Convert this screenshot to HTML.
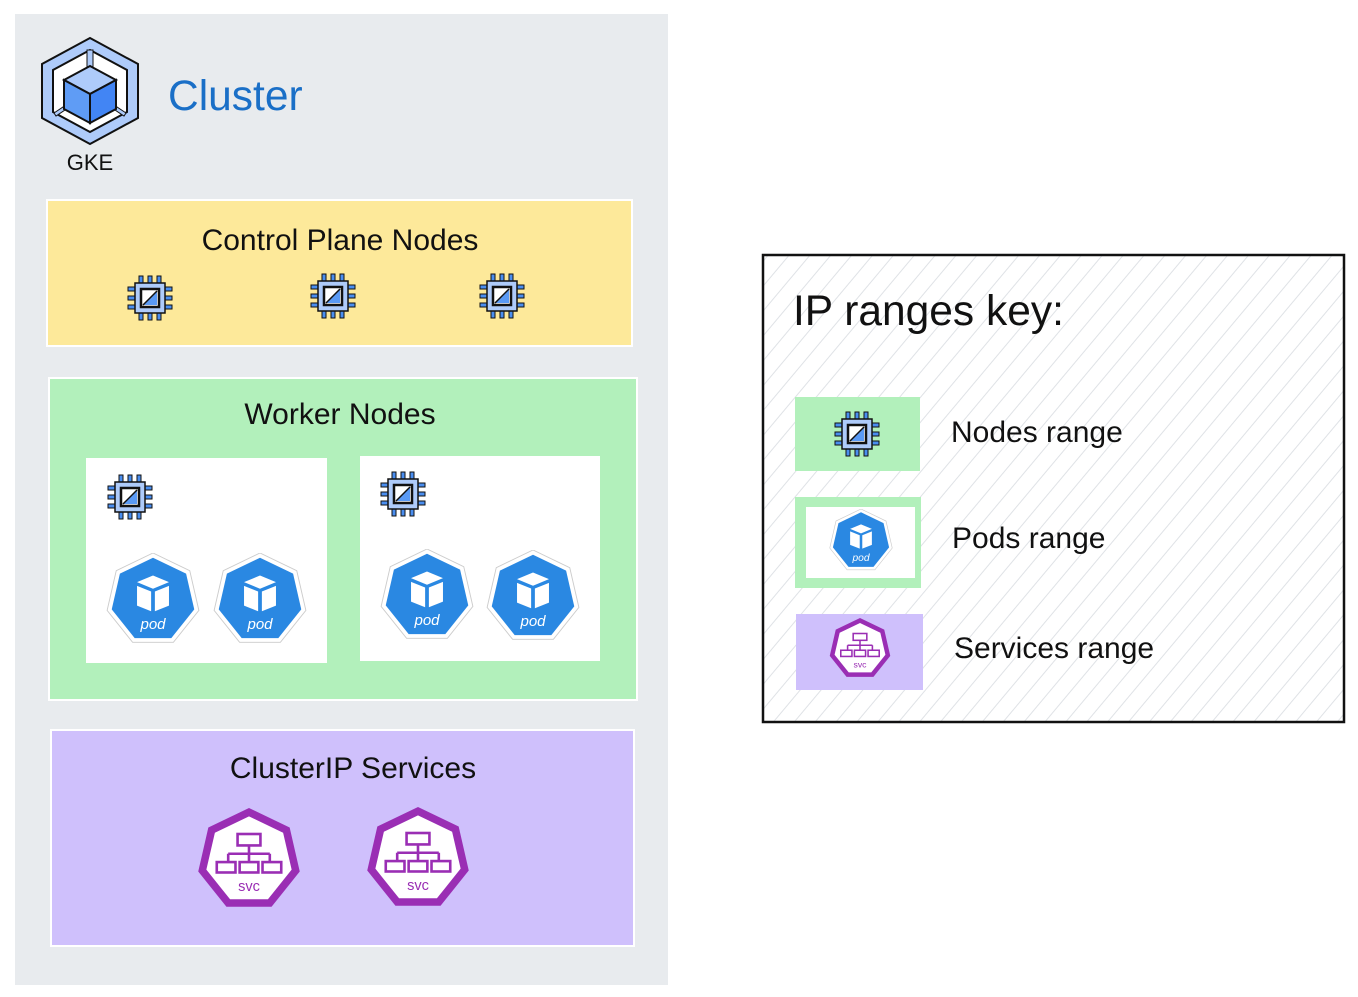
<!DOCTYPE html>
<html><head><meta charset="utf-8"><style>
html,body{margin:0;padding:0;background:#fff;}
svg{display:block;font-family:"Liberation Sans",sans-serif;}
</style></head><body>
<svg width="1358" height="997" viewBox="0 0 1358 997" xmlns="http://www.w3.org/2000/svg">
<defs>
<pattern id="hatch" width="16" height="16" patternUnits="userSpaceOnUse" patternTransform="rotate(40)">
<line x1="0" y1="0" x2="0" y2="16" stroke="#dfe2e6" stroke-width="2"/>
</pattern>
<symbol id="chip" viewBox="0 0 48 48">
<g fill="#4a8ef0" stroke="#111" stroke-width="1">
<rect x="13" y="2" width="4" height="8"/><rect x="22" y="2" width="4" height="8"/><rect x="31" y="2" width="4" height="8"/>
<rect x="13" y="38" width="4" height="8"/><rect x="22" y="38" width="4" height="8"/><rect x="31" y="38" width="4" height="8"/>
<rect x="2" y="13" width="8" height="4"/><rect x="2" y="22" width="8" height="4"/><rect x="2" y="31" width="8" height="4"/>
<rect x="38" y="13" width="8" height="4"/><rect x="38" y="22" width="8" height="4"/><rect x="38" y="31" width="8" height="4"/>
</g>
<rect x="9" y="9" width="30" height="30" fill="#aecbfa" stroke="#111" stroke-width="1.5"/>
<rect x="15" y="15" width="18" height="18" fill="#fff" stroke="#111" stroke-width="2.5"/>
<path d="M17 31 L31 17 L31 31 Z" fill="#5a9af5"/>
<path d="M17 31 L31 17" stroke="#111" stroke-width="1.5"/>
</symbol>
<symbol id="pod" viewBox="-50 -50 100 100">
<polygon points="0,-50 39.1,-31.2 48.8,11.1 21.7,45 -21.7,45 -48.8,11.1 -39.1,-31.2" fill="#fff" stroke="#ccc" stroke-width="1"/>
<polygon points="0,-45 35.2,-28 43.9,10 19.5,40.5 -19.5,40.5 -43.9,10 -35.2,-28" fill="#2a88e2"/>
<path d="M0,-26 L17,-19 L0,-12 L-17,-19 Z" fill="#fff"/>
<path d="M-17,-15 L-2,-9 L-2,12 L-17,6 Z" fill="#fff"/>
<path d="M2,-9 L17,-15 L17,6 L2,12 Z" fill="#fff"/>
<text x="0" y="31" text-anchor="middle" font-size="16" fill="#fff" font-style="italic">pod</text>
</symbol>
<symbol id="svc" viewBox="-50 -50 100 100">
<polygon points="0,-50 39.1,-31.2 48.8,11.1 21.7,45 -21.7,45 -48.8,11.1 -39.1,-31.2" fill="#9a2eb4"/>
<polygon points="0,-42 32.8,-26.2 41,9.3 18.2,37.8 -18.2,37.8 -41,9.3 -32.8,-26.2" fill="#fff"/>
<g fill="none" stroke="#9a2eb4" stroke-width="2.5">
<rect x="-11" y="-25" width="22" height="11"/>
<path d="M0,-14 V-6 M-20,-6 H20 M-20,-6 V2 M0,-6 V2 M20,-6 V2"/>
<rect x="-31" y="2" width="18" height="10"/><rect x="-9" y="2" width="18" height="10"/><rect x="13" y="2" width="18" height="10"/>
</g>
<text x="0" y="30" text-anchor="middle" font-size="14" fill="#9a2eb4">svc</text>
</symbol>
</defs>

<rect x="15" y="14" width="653" height="971" fill="#e8ebee"/>
<polygon points="90,38 138,64 138,118 90,144 42,118 42,64" fill="#aecbfa" stroke="#111" stroke-width="2"/>
<polygon points="90,50 127,70 127,112 90,132 53,112 53,70" fill="#fff" stroke="#111" stroke-width="2"/>
<rect x="87" y="50" width="6" height="18" fill="#aecbfa" stroke="#111" stroke-width="1"/>
<path d="M54,113 L66,105 L68,108 L56,116 Z" fill="#aecbfa" stroke="#111" stroke-width="1"/>
<path d="M126,113 L114,105 L112,108 L124,116 Z" fill="#aecbfa" stroke="#111" stroke-width="1"/>
<path d="M90,66 L116,80 L90,94 L64,80 Z" fill="#aecbfa" stroke="#111" stroke-width="2"/>
<path d="M64,80 L90,94 L90,123 L64,109 Z" fill="#5f9cf5" stroke="#111" stroke-width="2"/>
<path d="M116,80 L90,94 L90,123 L116,109 Z" fill="#4285f4" stroke="#111" stroke-width="2"/>
<text x="90" y="170" text-anchor="middle" font-size="22" fill="#111">GKE</text>
<text x="168" y="110" font-size="42.5" fill="#1a6fc7">Cluster</text>

<rect x="47" y="200" width="585" height="146" fill="#fde99a" stroke="#fff" stroke-width="2"/>
<text x="340" y="250" text-anchor="middle" font-size="30" fill="#111">Control Plane Nodes</text>
<use href="#chip" x="126" y="274" width="48" height="48"/>
<use href="#chip" x="309" y="272" width="48" height="48"/>
<use href="#chip" x="478" y="272" width="48" height="48"/>

<rect x="49" y="378" width="588" height="322" fill="#b2f0bb" stroke="#fff" stroke-width="2"/>
<text x="340" y="424" text-anchor="middle" font-size="30" fill="#111">Worker Nodes</text>
<rect x="86" y="458" width="241" height="205" fill="#fff"/>
<rect x="360" y="456" width="240" height="205" fill="#fff"/>
<use href="#chip" x="106" y="473" width="48" height="48"/>
<use href="#chip" x="379" y="470" width="48" height="48"/>
<use href="#pod" x="106" y="553" width="94" height="94"/>
<use href="#pod" x="213" y="553" width="94" height="94"/>
<use href="#pod" x="380" y="549" width="94" height="94"/>
<use href="#pod" x="486" y="550" width="94" height="94"/>

<rect x="51" y="730" width="583" height="216" fill="#cfc0fc" stroke="#fff" stroke-width="2"/>
<text x="353" y="778" text-anchor="middle" font-size="30" fill="#111">ClusterIP Services</text>
<use href="#svc" x="197" y="808" width="104" height="104"/>
<use href="#svc" x="366" y="807" width="104" height="104"/>

<rect x="763" y="255" width="581" height="467" fill="#fff"/>
<rect x="763" y="255" width="581" height="467" fill="url(#hatch)" stroke="#111" stroke-width="2.5"/>
<text x="793" y="325" font-size="42.5" fill="#111">IP ranges key:</text>
<rect x="795" y="397" width="125" height="74" fill="#b2f0bb"/>
<use href="#chip" x="833" y="410" width="48" height="48"/>
<text x="951" y="442" font-size="30" fill="#111">Nodes range</text>
<rect x="795" y="497" width="126" height="91" fill="#b2f0bb"/>
<rect x="806" y="507" width="109" height="71" fill="#fff"/>
<use href="#pod" x="829" y="509" width="64" height="64"/>
<text x="952" y="548" font-size="30" fill="#111">Pods range</text>
<rect x="796" y="614" width="127" height="76" fill="#cfc0fc"/>
<use href="#svc" x="829" y="618" width="62" height="62"/>
<text x="954" y="658" font-size="30" fill="#111">Services range</text>
</svg>
</body></html>
